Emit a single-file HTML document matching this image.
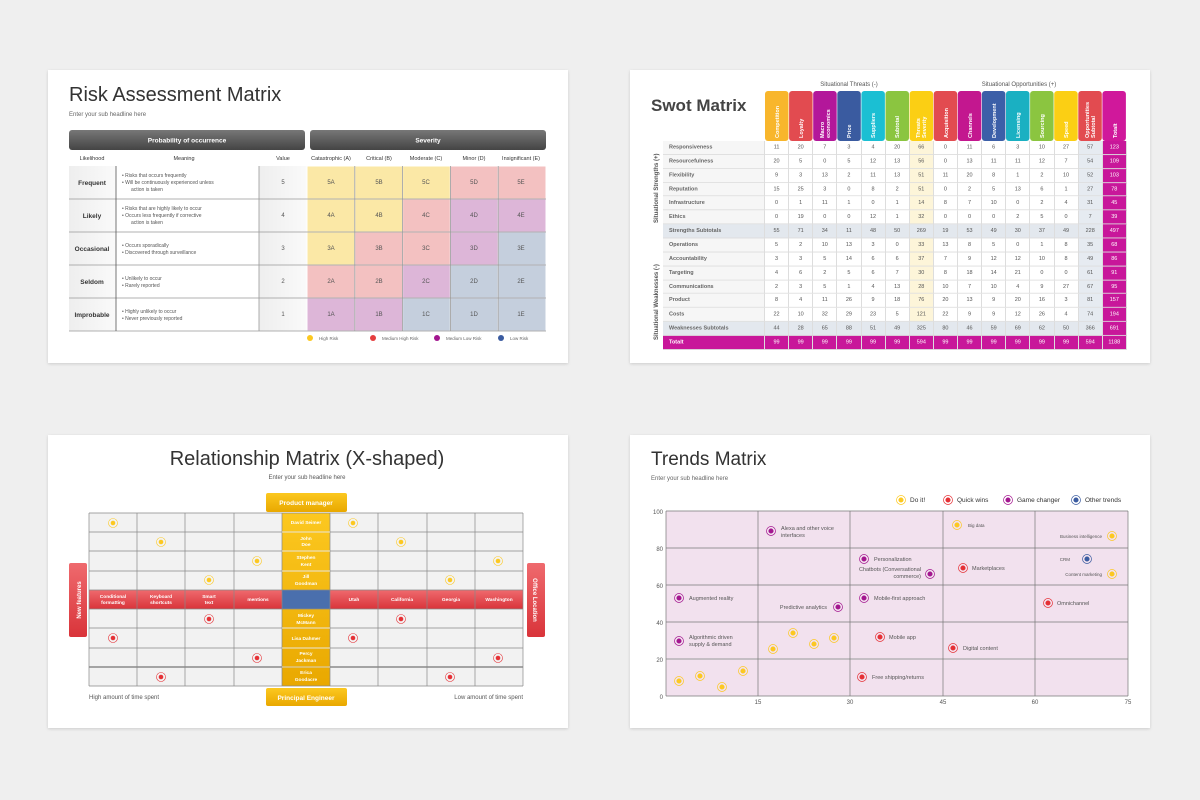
<!DOCTYPE html>
<html><head><meta charset="utf-8"><style>
body{margin:0;width:1200px;height:800px;background:#efefef;overflow:hidden;font-family:"Liberation Sans",sans-serif;position:relative}
.card{position:absolute;background:#fff;box-shadow:0 1px 3px rgba(0,0,0,.15)}
svg{position:absolute;left:0;top:0}
table.sw{position:absolute;left:663px;top:141px;display:grid;grid-template-columns:102px repeat(15,24.13px);grid-auto-rows:14.86px;font-size:5.5px;color:#555;border-collapse:separate;border-spacing:0;transform:scaleY(0.937);transform-origin:0 0}
table.sw tbody,table.sw tr{display:contents}
table.sw td{display:flex;align-items:center;justify-content:center;padding:0;border-right:1px solid #ddd;border-bottom:1px solid #ddd;box-sizing:border-box;background:#fff;overflow:hidden}
table.sw td:first-child{justify-content:flex-start;padding-left:6px;font-weight:bold;color:#666;background:#f6f6f6}
table.sw td:nth-child(8){background:#fdf5d9}
table.sw td:nth-child(15){background:#e6ebf1}
table.sw td:nth-child(16){background:#c8179a;color:#fff}
table.sw tr.s td{background:#e3e8ee}
table.sw tr.s td:nth-child(16){background:#c8179a}
table.sw tr.t td{background:#c8179a;color:#fff}
</style></head><body>
<div class="card" style="left:48px;top:70px;width:520px;height:293px"></div>
<div class="card" style="left:630px;top:70px;width:520px;height:293px"></div>
<div class="card" style="left:48px;top:435px;width:520px;height:293px"></div>
<div class="card" style="left:630px;top:435px;width:520px;height:293px"></div>
<svg width="1200" height="800" font-family="Liberation Sans, sans-serif">
<defs>
<linearGradient id="dk" x1="0" y1="0" x2="0" y2="1"><stop offset="0" stop-color="#777"/><stop offset="1" stop-color="#444"/></linearGradient>
<linearGradient id="lg" x1="0" y1="0" x2="1" y2="0"><stop offset="0" stop-color="#eee"/><stop offset="1" stop-color="#fafafa"/></linearGradient>
<linearGradient id="yl" x1="0" y1="0" x2="0" y2="1"><stop offset="0" stop-color="#fcc820"/><stop offset="1" stop-color="#e9a800"/></linearGradient>
<linearGradient id="rd" x1="0" y1="0" x2="0" y2="1"><stop offset="0" stop-color="#ef6a6e"/><stop offset="1" stop-color="#d9343a"/></linearGradient>
</defs>
<!-- RISK -->
<text x="69" y="101" font-size="20" fill="#333">Risk Assessment Matrix</text>
<text x="69" y="116" font-size="6" fill="#666">Enter your sub headline here</text>
<rect x="69" y="130" width="236" height="20" rx="3" fill="url(#dk)"/>
<rect x="310" y="130" width="236" height="20" rx="3" fill="url(#dk)"/>
<text x="187" y="142.5" font-size="6.5" fill="#fff" text-anchor="middle" font-weight="bold">Probability of occurrence</text>
<text x="428" y="142.5" font-size="6.5" fill="#fff" text-anchor="middle" font-weight="bold">Severity</text>
<g font-size="5.5" fill="#333" text-anchor="middle">
<text x="92" y="160">Likelihood</text><text x="184" y="160">Meaning</text><text x="283" y="160">Value</text><text x="331" y="160">Catastrophic (A)</text><text x="379" y="160">Critical (B)</text><text x="426" y="160">Moderate (C)</text><text x="474" y="160">Minor (D)</text><text x="521" y="160">Insignificant (E)</text></g>
<rect x="69" y="166" width="47" height="165" fill="url(#lg)"/>
<rect x="116" y="166" width="143" height="165" fill="#fff"/>
<rect x="259" y="166" width="48" height="165" fill="url(#lg)"/>
<g stroke="#fff" stroke-width="1">
<rect x="307" y="166" width="47.8" height="33" fill="#fbe8a6"/><rect x="354.8" y="166" width="47.8" height="33" fill="#fbe8a6"/><rect x="402.6" y="166" width="47.8" height="33" fill="#fbe8a6"/><rect x="450.4" y="166" width="47.8" height="33" fill="#f3c1c1"/><rect x="498.2" y="166" width="47.8" height="33" fill="#f3c1c1"/>
<rect x="307" y="199" width="47.8" height="33" fill="#fbe8a6"/><rect x="354.8" y="199" width="47.8" height="33" fill="#fbe8a6"/><rect x="402.6" y="199" width="47.8" height="33" fill="#f3c1c1"/><rect x="450.4" y="199" width="47.8" height="33" fill="#ddb6d8"/><rect x="498.2" y="199" width="47.8" height="33" fill="#ddb6d8"/>
<rect x="307" y="232" width="47.8" height="33" fill="#fbe8a6"/><rect x="354.8" y="232" width="47.8" height="33" fill="#f3c1c1"/><rect x="402.6" y="232" width="47.8" height="33" fill="#f3c1c1"/><rect x="450.4" y="232" width="47.8" height="33" fill="#ddb6d8"/><rect x="498.2" y="232" width="47.8" height="33" fill="#c5cfdd"/>
<rect x="307" y="265" width="47.8" height="33" fill="#f3c1c1"/><rect x="354.8" y="265" width="47.8" height="33" fill="#f3c1c1"/><rect x="402.6" y="265" width="47.8" height="33" fill="#ddb6d8"/><rect x="450.4" y="265" width="47.8" height="33" fill="#c5cfdd"/><rect x="498.2" y="265" width="47.8" height="33" fill="#c5cfdd"/>
<rect x="307" y="298" width="47.8" height="33" fill="#ddb6d8"/><rect x="354.8" y="298" width="47.8" height="33" fill="#ddb6d8"/><rect x="402.6" y="298" width="47.8" height="33" fill="#c5cfdd"/><rect x="450.4" y="298" width="47.8" height="33" fill="#c5cfdd"/><rect x="498.2" y="298" width="47.8" height="33" fill="#c5cfdd"/>
</g>
<g stroke="#999" stroke-width="0.8"><line x1="69" y1="199" x2="546" y2="199"/><line x1="69" y1="232" x2="546" y2="232"/><line x1="69" y1="265" x2="546" y2="265"/><line x1="69" y1="298" x2="546" y2="298"/><line x1="69" y1="331" x2="546" y2="331"/><line x1="116" y1="166" x2="116" y2="331" stroke="#555"/><line x1="259" y1="166" x2="259" y2="331"/><line x1="354.8" y1="166" x2="354.8" y2="331"/><line x1="402.6" y1="166" x2="402.6" y2="331"/><line x1="450.4" y1="166" x2="450.4" y2="331"/><line x1="498.2" y1="166" x2="498.2" y2="331"/></g>
<g font-size="6.5" font-weight="bold" fill="#333" text-anchor="middle"><text x="92" y="185">Frequent</text><text x="92" y="218">Likely</text><text x="92" y="251">Occasional</text><text x="92" y="284">Seldom</text><text x="92" y="317">Improbable</text></g>
<g font-size="6" fill="#555" text-anchor="middle"><text x="283" y="184">5</text><text x="283" y="217">4</text><text x="283" y="250">3</text><text x="283" y="283">2</text><text x="283" y="316">1</text>
<text x="331" y="184">5A</text><text x="379" y="184">5B</text><text x="426" y="184">5C</text><text x="474" y="184">5D</text><text x="521" y="184">5E</text>
<text x="331" y="217">4A</text><text x="379" y="217">4B</text><text x="426" y="217">4C</text><text x="474" y="217">4D</text><text x="521" y="217">4E</text>
<text x="331" y="250">3A</text><text x="379" y="250">3B</text><text x="426" y="250">3C</text><text x="474" y="250">3D</text><text x="521" y="250">3E</text>
<text x="331" y="283">2A</text><text x="379" y="283">2B</text><text x="426" y="283">2C</text><text x="474" y="283">2D</text><text x="521" y="283">2E</text>
<text x="331" y="316">1A</text><text x="379" y="316">1B</text><text x="426" y="316">1C</text><text x="474" y="316">1D</text><text x="521" y="316">1E</text></g>
<g font-size="5" fill="#555"><text x="122" y="177">•  Risks that occurs frequently</text><text x="122" y="184">•  Will be continuously experienced unless</text><text x="131" y="191">action is taken</text>
<text x="122" y="210">•  Risks that are highly likely to occur</text><text x="122" y="217">•  Occurs less frequently if corrective</text><text x="131" y="224">action is taken</text>
<text x="122" y="247">•  Occurs sporadically</text><text x="122" y="254">•  Discovered through surveillance</text>
<text x="122" y="280">•  Unlikely to occur</text><text x="122" y="287">•  Rarely reported</text>
<text x="122" y="313">•  Highly unlikely to occur</text><text x="122" y="320">•  Never previously reported</text></g>
<g font-size="4.5" fill="#666"><circle cx="310" cy="338" r="3" fill="#fcc820"/><text x="319" y="340">High Risk</text><circle cx="373" cy="338" r="3" fill="#e53e3e"/><text x="382" y="340">Medium High Risk</text><circle cx="437" cy="338" r="3" fill="#a3168f"/><text x="446" y="340">Medium Low Risk</text><circle cx="501" cy="338" r="3" fill="#3a5ba0"/><text x="510" y="340">Low Risk</text></g>
<!-- SWOT -->
<text x="651" y="111" font-size="17" font-weight="bold" fill="#444">Swot Matrix</text>
<text x="849" y="86" font-size="6" fill="#555" text-anchor="middle">Situational Threats (-)</text>
<text x="1019" y="86" font-size="6" fill="#555" text-anchor="middle">Situational Opportunities (+)</text>
<g>
<rect x="765" y="91" width="23.5" height="50" rx="3" fill="#f8b62c"/><rect x="789.1" y="91" width="23.5" height="50" rx="3" fill="#e24b50"/><rect x="813.2" y="91" width="23.5" height="50" rx="3" fill="#b3179a"/><rect x="837.3" y="91" width="23.5" height="50" rx="3" fill="#3a5ba0"/><rect x="861.4" y="91" width="23.5" height="50" rx="3" fill="#1bbfd3"/><rect x="885.5" y="91" width="23.5" height="50" rx="3" fill="#8bc540"/><rect x="909.6" y="91" width="23.5" height="50" rx="3" fill="#fbcf14"/><rect x="933.7" y="91" width="23.5" height="50" rx="3" fill="#e24b50"/><rect x="957.8" y="91" width="23.5" height="50" rx="3" fill="#c3178f"/><rect x="981.9" y="91" width="23.5" height="50" rx="3" fill="#3c5fa8"/><rect x="1006" y="91" width="23.5" height="50" rx="3" fill="#1ab0c2"/><rect x="1030.1" y="91" width="23.5" height="50" rx="3" fill="#8bc540"/><rect x="1054.2" y="91" width="23.5" height="50" rx="3" fill="#fbcf14"/><rect x="1078.3" y="91" width="23.5" height="50" rx="3" fill="#e24b50"/><rect x="1102.4" y="91" width="23.5" height="50" rx="3" fill="#d0189b"/>
</g>
<g font-size="5.5" fill="#fff" font-weight="bold">
<text transform="translate(779,138) rotate(-90)">Competition</text><text transform="translate(803,138) rotate(-90)">Loyalty</text><text transform="translate(824,138) rotate(-90)">Macro</text><text transform="translate(830,138) rotate(-90)">economics</text><text transform="translate(851,138) rotate(-90)">Price</text><text transform="translate(875,138) rotate(-90)">Suppliers</text><text transform="translate(899,138) rotate(-90)">Subtotal</text><text transform="translate(920,138) rotate(-90)">Threats</text><text transform="translate(926,138) rotate(-90)">Severity</text><text transform="translate(948,138) rotate(-90)">Acquisition</text><text transform="translate(972,138) rotate(-90)">Channels</text><text transform="translate(996,138) rotate(-90)">Development</text><text transform="translate(1020,138) rotate(-90)">Licensing</text><text transform="translate(1044,138) rotate(-90)">Sourcing</text><text transform="translate(1068,138) rotate(-90)">Speed</text><text transform="translate(1089,138) rotate(-90)">Opportunities</text><text transform="translate(1095,138) rotate(-90)">Subtotal</text><text transform="translate(1117,138) rotate(-90)">Totalt</text></g>
<g font-size="6" fill="#555" font-weight="bold"><text transform="translate(658,223) rotate(-90)">Situational  Strengths (+)</text><text transform="translate(658,340) rotate(-90)">Situational  Weaknesses (-)</text></g>
<!-- RELATIONSHIP -->
<text x="307" y="465" font-size="20" fill="#333" text-anchor="middle">Relationship Matrix (X-shaped)</text>
<text x="307" y="479" font-size="6" fill="#555" text-anchor="middle">Enter your sub headline here</text>
<rect x="89" y="513" width="434" height="173" fill="#f2f2f2"/>
<rect x="282" y="513" width="48" height="173" fill="url(#yl)"/>
<rect x="89" y="590" width="434" height="19" fill="url(#rd)"/>
<rect x="282" y="590" width="48" height="19" fill="#4a6fad"/>
<g stroke="#888" stroke-width="0.7"><line x1="89" y1="513" x2="523" y2="513"/><line x1="89" y1="532" x2="523" y2="532"/><line x1="89" y1="551" x2="523" y2="551"/><line x1="89" y1="571" x2="523" y2="571"/><line x1="89" y1="590" x2="523" y2="590"/><line x1="89" y1="609" x2="523" y2="609"/><line x1="89" y1="628" x2="523" y2="628"/><line x1="89" y1="648" x2="523" y2="648"/><line x1="89" y1="667" x2="523" y2="667" stroke="#222"/><line x1="89" y1="686" x2="523" y2="686"/>
<line x1="89" y1="513" x2="89" y2="686"/><line x1="137" y1="513" x2="137" y2="686"/><line x1="185" y1="513" x2="185" y2="686"/><line x1="234" y1="513" x2="234" y2="686"/><line x1="282" y1="513" x2="282" y2="686"/><line x1="330" y1="513" x2="330" y2="686"/><line x1="378" y1="513" x2="378" y2="686"/><line x1="427" y1="513" x2="427" y2="686"/><line x1="475" y1="513" x2="475" y2="686"/><line x1="523" y1="513" x2="523" y2="686"/></g>
<g stroke="#fff" stroke-width="0.8"><line x1="282" y1="532" x2="330" y2="532"/><line x1="282" y1="551" x2="330" y2="551"/><line x1="282" y1="571" x2="330" y2="571"/><line x1="282" y1="628" x2="330" y2="628"/><line x1="282" y1="648" x2="330" y2="648"/><line x1="282" y1="667" x2="330" y2="667"/></g>
<rect x="266" y="493" width="81" height="19" rx="2" fill="url(#yl)"/><rect x="266" y="688" width="81" height="18" rx="2" fill="url(#yl)"/>
<text x="306" y="505" font-size="6.5" fill="#fff" font-weight="bold" text-anchor="middle">Product manager</text>
<text x="306" y="700" font-size="6.5" fill="#fff" font-weight="bold" text-anchor="middle">Principal Engineer</text>
<rect x="69" y="563" width="18" height="74" rx="2" fill="url(#rd)"/><rect x="527" y="563" width="18" height="74" rx="2" fill="url(#rd)"/>
<text transform="translate(81,600) rotate(-90)" font-size="6" fill="#fff" font-weight="bold" text-anchor="middle">New features</text>
<text transform="translate(533,600) rotate(90)" font-size="6" fill="#fff" font-weight="bold" text-anchor="middle">Office Location</text>
<g font-size="4.8" fill="#fff" font-weight="bold" text-anchor="middle">
<text x="306" y="524">David Seimer</text><text x="306" y="540">John</text><text x="306" y="546">Doe</text><text x="306" y="559">Stephen</text><text x="306" y="566">Kent</text><text x="306" y="578">Jill</text><text x="306" y="585">Goodman</text><text x="306" y="617">Mickey</text><text x="306" y="624">McMann</text><text x="306" y="640">Lisa Dahmer</text><text x="306" y="655">Percy</text><text x="306" y="662">Jackman</text><text x="306" y="674">Erica</text><text x="306" y="681">Goodacre</text>
<text x="113" y="598">Conditional</text><text x="113" y="604">formatting</text><text x="161" y="598">Keyboard</text><text x="161" y="604">shortcuts</text><text x="209" y="598">Smart</text><text x="209" y="604">text</text><text x="258" y="601">mentions</text><text x="354" y="601">Utah</text><text x="402" y="601">California</text><text x="451" y="601">Georgia</text><text x="499" y="601">Washington</text></g>
<g fill="#fcc820" stroke="#fcc820" stroke-width="0.6"><g fill="none"><circle cx="113" cy="523" r="4.5"/><circle cx="353" cy="523" r="4.5"/><circle cx="161" cy="542" r="4.5"/><circle cx="401" cy="542" r="4.5"/><circle cx="257" cy="561" r="4.5"/><circle cx="498" cy="561" r="4.5"/><circle cx="209" cy="580" r="4.5"/><circle cx="450" cy="580" r="4.5"/></g>
<circle cx="113" cy="523" r="2"/><circle cx="353" cy="523" r="2"/><circle cx="161" cy="542" r="2"/><circle cx="401" cy="542" r="2"/><circle cx="257" cy="561" r="2"/><circle cx="498" cy="561" r="2"/><circle cx="209" cy="580" r="2"/><circle cx="450" cy="580" r="2"/></g>
<g fill="#e53035" stroke="#e53035" stroke-width="0.6"><g fill="none"><circle cx="209" cy="619" r="4.5"/><circle cx="401" cy="619" r="4.5"/><circle cx="113" cy="638" r="4.5"/><circle cx="353" cy="638" r="4.5"/><circle cx="257" cy="658" r="4.5"/><circle cx="498" cy="658" r="4.5"/><circle cx="161" cy="677" r="4.5"/><circle cx="450" cy="677" r="4.5"/></g>
<circle cx="209" cy="619" r="2"/><circle cx="401" cy="619" r="2"/><circle cx="113" cy="638" r="2"/><circle cx="353" cy="638" r="2"/><circle cx="257" cy="658" r="2"/><circle cx="498" cy="658" r="2"/><circle cx="161" cy="677" r="2"/><circle cx="450" cy="677" r="2"/></g>
<text x="89" y="699" font-size="6" fill="#555">High amount of time spent</text>
<text x="523" y="699" font-size="6" fill="#555" text-anchor="end">Low amount of time spent</text>
<!-- TRENDS -->
<text x="651" y="465" font-size="19" fill="#333">Trends Matrix</text>
<text x="651" y="480" font-size="6" fill="#666">Enter your sub headline here</text>
<rect x="666" y="511" width="462" height="185" fill="#f2e1ee"/>
<g stroke="#777" stroke-width="0.7"><line x1="666" y1="511" x2="1128" y2="511"/><line x1="666" y1="548" x2="1128" y2="548"/><line x1="666" y1="585" x2="1128" y2="585"/><line x1="666" y1="622" x2="1128" y2="622"/><line x1="666" y1="659" x2="1128" y2="659" stroke="#aaa" stroke-width="1.2"/><line x1="666" y1="696" x2="1128" y2="696"/><line x1="666" y1="511" x2="666" y2="696"/><line x1="758" y1="511" x2="758" y2="696"/><line x1="850" y1="511" x2="850" y2="696"/><line x1="943" y1="511" x2="943" y2="696"/><line x1="1035" y1="511" x2="1035" y2="696"/><line x1="1128" y1="511" x2="1128" y2="696"/></g>
<g font-size="6" fill="#555" text-anchor="end"><text x="663" y="514">100</text><text x="663" y="551">80</text><text x="663" y="588">60</text><text x="663" y="625">40</text><text x="663" y="662">20</text><text x="663" y="699">0</text></g>
<g font-size="6" fill="#555" text-anchor="middle"><text x="758" y="704">15</text><text x="850" y="704">30</text><text x="943" y="704">45</text><text x="1035" y="704">60</text><text x="1128" y="704">75</text></g>
<g stroke-width="0.7">
<g fill="#fcc820" stroke="#fcc820"><circle cx="901" cy="500" r="2.2"/><circle cx="679" cy="681" r="2.2"/><circle cx="700" cy="676" r="2.2"/><circle cx="722" cy="687" r="2.2"/><circle cx="743" cy="671" r="2.2"/><circle cx="773" cy="649" r="2.2"/><circle cx="793" cy="633" r="2.2"/><circle cx="814" cy="644" r="2.2"/><circle cx="834" cy="638" r="2.2"/><circle cx="957" cy="525" r="2.2"/><circle cx="1112" cy="536" r="2.2"/><circle cx="1112" cy="574" r="2.2"/>
<g fill="none"><circle cx="901" cy="500" r="4.5"/><circle cx="679" cy="681" r="4.5"/><circle cx="700" cy="676" r="4.5"/><circle cx="722" cy="687" r="4.5"/><circle cx="743" cy="671" r="4.5"/><circle cx="773" cy="649" r="4.5"/><circle cx="793" cy="633" r="4.5"/><circle cx="814" cy="644" r="4.5"/><circle cx="834" cy="638" r="4.5"/><circle cx="957" cy="525" r="4.5"/><circle cx="1112" cy="536" r="4.5"/><circle cx="1112" cy="574" r="4.5"/></g></g>
<g fill="#a3168f" stroke="#a3168f"><circle cx="1008" cy="500" r="2.2"/><circle cx="771" cy="531" r="2.2"/><circle cx="864" cy="559" r="2.2"/><circle cx="930" cy="574" r="2.2"/><circle cx="679" cy="598" r="2.2"/><circle cx="838" cy="607" r="2.2"/><circle cx="864" cy="598" r="2.2"/><circle cx="679" cy="641" r="2.2"/>
<g fill="none"><circle cx="1008" cy="500" r="4.5"/><circle cx="771" cy="531" r="4.5"/><circle cx="864" cy="559" r="4.5"/><circle cx="930" cy="574" r="4.5"/><circle cx="679" cy="598" r="4.5"/><circle cx="838" cy="607" r="4.5"/><circle cx="864" cy="598" r="4.5"/><circle cx="679" cy="641" r="4.5"/></g></g>
<g fill="#e53035" stroke="#e53035"><circle cx="948" cy="500" r="2.2"/><circle cx="963" cy="568" r="2.2"/><circle cx="1048" cy="603" r="2.2"/><circle cx="880" cy="637" r="2.2"/><circle cx="953" cy="648" r="2.2"/><circle cx="862" cy="677" r="2.2"/>
<g fill="none"><circle cx="948" cy="500" r="4.5"/><circle cx="963" cy="568" r="4.5"/><circle cx="1048" cy="603" r="4.5"/><circle cx="880" cy="637" r="4.5"/><circle cx="953" cy="648" r="4.5"/><circle cx="862" cy="677" r="4.5"/></g></g>
<g fill="#3a5ba0" stroke="#3a5ba0"><circle cx="1076" cy="500" r="2.2"/><circle cx="1087" cy="559" r="2.2"/><g fill="none"><circle cx="1076" cy="500" r="4.5"/><circle cx="1087" cy="559" r="4.5"/></g></g></g>
<g font-size="6.5" fill="#333"><text x="910" y="502">Do it!</text><text x="957" y="502">Quick wins</text><text x="1017" y="502">Game changer</text><text x="1085" y="502">Other trends</text></g>
<g font-size="5.5" fill="#555"><text x="781" y="530">Alexa and other voice</text><text x="781" y="537">interfaces</text><text x="874" y="561">Personalization</text><text x="921" y="571" text-anchor="end">Chatbots (Conversational</text><text x="921" y="578" text-anchor="end">commerce)</text><text x="689" y="600">Augmented reality</text><text x="827" y="609" text-anchor="end">Predictive analytics</text><text x="874" y="600">Mobile-first approach</text><text x="689" y="639">Algorithmic driven</text><text x="689" y="646">supply &amp; demand</text><text x="972" y="570">Marketplaces</text><text x="1057" y="605">Omnichannel</text><text x="889" y="639">Mobile app</text><text x="963" y="650">Digital content</text><text x="872" y="679">Free shipping/returns</text><text x="1070" y="561" text-anchor="end" font-size="4.5">CRM</text></g>
<g font-size="4.5" fill="#555"><text x="968" y="527">Big data</text><text x="1102" y="538" text-anchor="end">Business intelligence</text><text x="1102" y="576" text-anchor="end">Content marketing</text></g>
</svg>
<table class="sw">
<tr><td>Responsiveness</td><td>11</td><td>20</td><td>7</td><td>3</td><td>4</td><td>20</td><td>66</td><td>0</td><td>11</td><td>6</td><td>3</td><td>10</td><td>27</td><td>57</td><td>123</td></tr>
<tr><td>Resourcefulness</td><td>20</td><td>5</td><td>0</td><td>5</td><td>12</td><td>13</td><td>56</td><td>0</td><td>13</td><td>11</td><td>11</td><td>12</td><td>7</td><td>54</td><td>109</td></tr>
<tr><td>Flexibility</td><td>9</td><td>3</td><td>13</td><td>2</td><td>11</td><td>13</td><td>51</td><td>11</td><td>20</td><td>8</td><td>1</td><td>2</td><td>10</td><td>52</td><td>103</td></tr>
<tr><td>Reputation</td><td>15</td><td>25</td><td>3</td><td>0</td><td>8</td><td>2</td><td>51</td><td>0</td><td>2</td><td>5</td><td>13</td><td>6</td><td>1</td><td>27</td><td>78</td></tr>
<tr><td>Infrastructure</td><td>0</td><td>1</td><td>11</td><td>1</td><td>0</td><td>1</td><td>14</td><td>8</td><td>7</td><td>10</td><td>0</td><td>2</td><td>4</td><td>31</td><td>45</td></tr>
<tr><td>Ethics</td><td>0</td><td>19</td><td>0</td><td>0</td><td>12</td><td>1</td><td>32</td><td>0</td><td>0</td><td>0</td><td>2</td><td>5</td><td>0</td><td>7</td><td>39</td></tr>
<tr class="s"><td>Strengths Subtotals</td><td>55</td><td>71</td><td>34</td><td>11</td><td>48</td><td>50</td><td>269</td><td>19</td><td>53</td><td>49</td><td>30</td><td>37</td><td>49</td><td>228</td><td>497</td></tr>
<tr><td>Operations</td><td>5</td><td>2</td><td>10</td><td>13</td><td>3</td><td>0</td><td>33</td><td>13</td><td>8</td><td>5</td><td>0</td><td>1</td><td>8</td><td>35</td><td>68</td></tr>
<tr><td>Accountability</td><td>3</td><td>3</td><td>5</td><td>14</td><td>6</td><td>6</td><td>37</td><td>7</td><td>9</td><td>12</td><td>12</td><td>10</td><td>8</td><td>49</td><td>86</td></tr>
<tr><td>Targeting</td><td>4</td><td>6</td><td>2</td><td>5</td><td>6</td><td>7</td><td>30</td><td>8</td><td>18</td><td>14</td><td>21</td><td>0</td><td>0</td><td>61</td><td>91</td></tr>
<tr><td>Communications</td><td>2</td><td>3</td><td>5</td><td>1</td><td>4</td><td>13</td><td>28</td><td>10</td><td>7</td><td>10</td><td>4</td><td>9</td><td>27</td><td>67</td><td>95</td></tr>
<tr><td>Product</td><td>8</td><td>4</td><td>11</td><td>26</td><td>9</td><td>18</td><td>76</td><td>20</td><td>13</td><td>9</td><td>20</td><td>16</td><td>3</td><td>81</td><td>157</td></tr>
<tr><td>Costs</td><td>22</td><td>10</td><td>32</td><td>29</td><td>23</td><td>5</td><td>121</td><td>22</td><td>9</td><td>9</td><td>12</td><td>26</td><td>4</td><td>74</td><td>194</td></tr>
<tr class="s"><td>Weaknesses Subtotals</td><td>44</td><td>28</td><td>65</td><td>88</td><td>51</td><td>49</td><td>325</td><td>80</td><td>46</td><td>59</td><td>69</td><td>62</td><td>50</td><td>366</td><td>691</td></tr>
<tr class="t"><td style="background:#c8179a;color:#fff">Totalt</td><td>99</td><td>99</td><td>99</td><td>99</td><td>99</td><td>99</td><td>594</td><td>99</td><td>99</td><td>99</td><td>99</td><td>99</td><td>99</td><td>594</td><td>1188</td></tr>
</table>
</body></html>
